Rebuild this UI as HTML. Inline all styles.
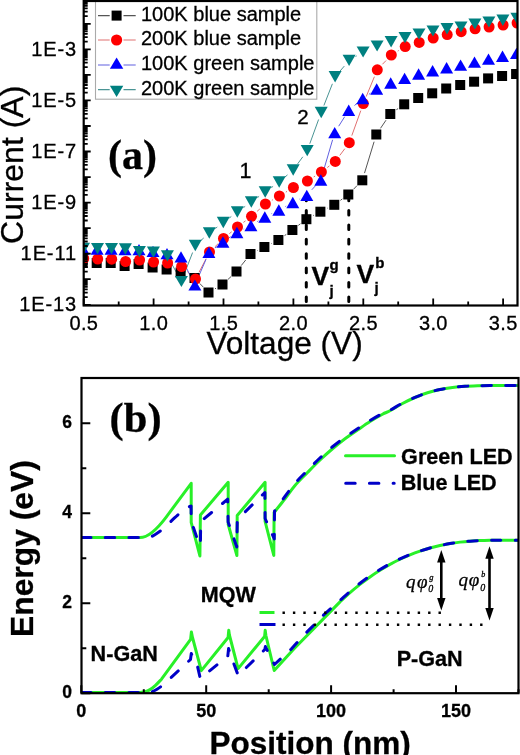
<!DOCTYPE html>
<html><head><meta charset="utf-8"><style>
html,body{margin:0;padding:0;background:#fff;}
svg{display:block;}
text{stroke:#000;stroke-width:0.3px;}
text.nb{stroke-width:0.15px;}
</style></head><body>
<svg width="520" height="755" viewBox="0 0 520 755" font-family="Liberation Sans, Arial, sans-serif" fill="#000">
<rect width="520" height="755" fill="#fff"/>
<clipPath id="ca"><rect x="83.7" y="1.0" width="433.8" height="304.5"/></clipPath>
<g clip-path="url(#ca)">
<path d="M199.7,283.4L203.3,287.1 M215.0,288.8L216.0,288.2 M228.0,279.4L231.0,276.6 M241.2,265.6L245.8,259.9 M257.2,250.6L257.7,250.4 M271.1,243.6L271.7,243.4 M284.5,235.6L286.3,234.4 M298.3,225.4L300.4,223.8 M313.0,215.7L313.8,215.2 M327.1,208.4L327.6,208.1 M340.4,200.4L342.3,198.9 M353.6,189.2L357.0,185.6 M364.5,173.1L374.1,141.7 M380.5,128.3L386.0,120.2 M396.4,109.7L398.1,108.6" fill="none" stroke="#555555" stroke-width="1"/>
<path d="M187.2,271.5L189.9,274.0 M199.0,272.3L206.1,258.7 M214.9,246.8L218.1,243.7 M229.3,233.7L231.7,231.8 M243.4,222.4L245.5,220.9 M257.1,211.3L259.8,209.0 M271.9,200.3L272.9,199.7 M285.8,192.1L287.0,191.4 M313.7,176.9L315.1,176.1 M327.3,167.5L329.4,165.9 M339.8,155.4L344.8,148.7 M351.8,135.6L360.8,110.6 M366.2,96.6L374.4,76.7 M382.4,64.3L386.1,60.5 M397.7,51.1L398.8,50.5" fill="none" stroke="#e07070" stroke-width="1"/>
<path d="M184.3,263.7L191.6,278.3 M197.9,278.1L206.0,259.4 M214.9,248.0L216.9,246.5 M229.1,237.8L230.7,236.7 M243.6,229.1L244.2,228.9 M257.3,221.6L258.4,220.9 M271.5,213.6L272.1,213.4 M285.4,206.5L286.2,206.0 M299.5,199.1L300.1,198.7 M311.8,189.8L315.7,185.5 M322.9,172.8L332.6,139.8 M338.7,126.2L344.7,116.7 M354.5,105.5L357.0,103.3 M368.9,94.3L370.5,93.2" fill="none" stroke="#6060e0" stroke-width="1"/>
<path d="M171.0,262.6L177.8,274.9 M184.1,274.5L192.6,252.5 M200.9,240.5L203.7,238.0 M215.3,228.5L217.3,227.0 M229.3,218.0L231.3,216.5 M243.4,207.6L245.2,206.4 M257.4,197.6L259.1,196.4 M271.3,187.6L273.1,186.4 M284.9,177.1L287.5,174.9 M297.6,163.9L302.8,156.8 M309.8,143.7L318.6,119.5 M323.9,105.5L332.4,83.8 M340.0,71.1L344.3,66.1 M355.5,56.5L356.7,55.9" fill="none" stroke="#4a9494" stroke-width="1"/>
<line x1="306.3" y1="301.5" x2="306.3" y2="198" stroke="#000" stroke-width="3" stroke-dasharray="4.6,9.8" stroke-linecap="round"/>
<line x1="348.8" y1="301.5" x2="348.8" y2="198" stroke="#000" stroke-width="3" stroke-dasharray="4.6,9.8" stroke-linecap="round"/>
<rect x="77.7" y="258.0" width="10" height="10" fill="#000000"/>
<rect x="91.7" y="258.0" width="10" height="10" fill="#000000"/>
<rect x="105.7" y="258.0" width="10" height="10" fill="#000000"/>
<rect x="119.6" y="261.0" width="10" height="10" fill="#000000"/>
<rect x="133.6" y="259.0" width="10" height="10" fill="#000000"/>
<rect x="147.6" y="262.5" width="10" height="10" fill="#000000"/>
<rect x="161.6" y="264.5" width="10" height="10" fill="#000000"/>
<rect x="175.6" y="267.5" width="10" height="10" fill="#000000"/>
<rect x="189.5" y="273.0" width="10" height="10" fill="#000000"/>
<rect x="203.5" y="287.5" width="10" height="10" fill="#000000"/>
<rect x="217.5" y="279.5" width="10" height="10" fill="#000000"/>
<rect x="231.5" y="266.5" width="10" height="10" fill="#000000"/>
<rect x="245.5" y="249.0" width="10" height="10" fill="#000000"/>
<rect x="259.4" y="242.0" width="10" height="10" fill="#000000"/>
<rect x="273.4" y="235.0" width="10" height="10" fill="#000000"/>
<rect x="287.4" y="225.0" width="10" height="10" fill="#000000"/>
<rect x="301.4" y="214.2" width="10" height="10" fill="#000000"/>
<rect x="315.4" y="206.7" width="10" height="10" fill="#000000"/>
<rect x="329.3" y="199.8" width="10" height="10" fill="#000000"/>
<rect x="343.3" y="189.5" width="10" height="10" fill="#000000"/>
<rect x="357.3" y="175.3" width="10" height="10" fill="#000000"/>
<rect x="371.3" y="129.5" width="10" height="10" fill="#000000"/>
<rect x="385.3" y="109.0" width="10" height="10" fill="#000000"/>
<rect x="399.2" y="99.3" width="10" height="10" fill="#000000"/>
<rect x="413.2" y="93.0" width="10" height="10" fill="#000000"/>
<rect x="427.2" y="88.3" width="10" height="10" fill="#000000"/>
<rect x="441.2" y="83.5" width="10" height="10" fill="#000000"/>
<rect x="455.2" y="80.0" width="10" height="10" fill="#000000"/>
<rect x="469.1" y="76.7" width="10" height="10" fill="#000000"/>
<rect x="483.1" y="73.4" width="10" height="10" fill="#000000"/>
<rect x="497.1" y="71.0" width="10" height="10" fill="#000000"/>
<rect x="511.1" y="69.0" width="10" height="10" fill="#000000"/>
<circle cx="83.7" cy="258.5" r="5.5" fill="#ff0000"/>
<circle cx="97.7" cy="259.0" r="5.5" fill="#ff0000"/>
<circle cx="111.7" cy="259.2" r="5.5" fill="#ff0000"/>
<circle cx="125.6" cy="261.5" r="5.5" fill="#ff0000"/>
<circle cx="139.6" cy="260.0" r="5.5" fill="#ff0000"/>
<circle cx="153.6" cy="262.0" r="5.5" fill="#ff0000"/>
<circle cx="167.6" cy="263.0" r="5.5" fill="#ff0000"/>
<circle cx="181.6" cy="266.5" r="5.5" fill="#ff0000"/>
<circle cx="195.5" cy="279.0" r="5.5" fill="#ff0000"/>
<circle cx="209.5" cy="252.0" r="5.5" fill="#ff0000"/>
<circle cx="223.5" cy="238.5" r="5.5" fill="#ff0000"/>
<circle cx="237.5" cy="227.0" r="5.5" fill="#ff0000"/>
<circle cx="251.5" cy="216.3" r="5.5" fill="#ff0000"/>
<circle cx="265.4" cy="204.0" r="5.5" fill="#ff0000"/>
<circle cx="279.4" cy="196.0" r="5.5" fill="#ff0000"/>
<circle cx="293.4" cy="187.5" r="5.5" fill="#ff0000"/>
<circle cx="307.4" cy="181.0" r="5.5" fill="#ff0000"/>
<circle cx="321.4" cy="172.0" r="5.5" fill="#ff0000"/>
<circle cx="335.3" cy="161.4" r="5.5" fill="#ff0000"/>
<circle cx="349.3" cy="142.7" r="5.5" fill="#ff0000"/>
<circle cx="363.3" cy="103.5" r="5.5" fill="#ff0000"/>
<circle cx="377.3" cy="69.8" r="5.5" fill="#ff0000"/>
<circle cx="391.3" cy="55.0" r="5.5" fill="#ff0000"/>
<circle cx="405.2" cy="46.6" r="5.5" fill="#ff0000"/>
<circle cx="419.2" cy="42.4" r="5.5" fill="#ff0000"/>
<circle cx="433.2" cy="38.0" r="5.5" fill="#ff0000"/>
<circle cx="447.2" cy="34.6" r="5.5" fill="#ff0000"/>
<circle cx="461.2" cy="31.7" r="5.5" fill="#ff0000"/>
<circle cx="475.1" cy="28.8" r="5.5" fill="#ff0000"/>
<circle cx="489.1" cy="27.0" r="5.5" fill="#ff0000"/>
<circle cx="503.1" cy="25.0" r="5.5" fill="#ff0000"/>
<circle cx="517.1" cy="23.0" r="5.5" fill="#ff0000"/>
<polygon points="76.6,254.7 89.6,254.7 83.1,243.3" fill="#0000ff"/>
<polygon points="90.6,254.7 103.6,254.7 97.1,243.3" fill="#0000ff"/>
<polygon points="104.6,254.7 117.6,254.7 111.1,243.3" fill="#0000ff"/>
<polygon points="118.5,255.2 131.5,255.2 125.0,243.8" fill="#0000ff"/>
<polygon points="132.5,255.3 145.5,255.3 139.0,244.0" fill="#0000ff"/>
<polygon points="146.5,257.1 159.5,257.1 153.0,245.8" fill="#0000ff"/>
<polygon points="160.5,259.3 173.5,259.3 167.0,248.0" fill="#0000ff"/>
<polygon points="174.5,262.6 187.5,262.6 181.0,251.3" fill="#0000ff"/>
<polygon points="188.4,290.6 201.4,290.6 194.9,279.4" fill="#0000ff"/>
<polygon points="202.4,258.1 215.4,258.1 208.9,246.8" fill="#0000ff"/>
<polygon points="216.4,247.7 229.4,247.7 222.9,236.3" fill="#0000ff"/>
<polygon points="230.4,238.2 243.4,238.2 236.9,226.8" fill="#0000ff"/>
<polygon points="244.4,231.2 257.4,231.2 250.9,219.8" fill="#0000ff"/>
<polygon points="258.3,222.7 271.3,222.7 264.8,211.3" fill="#0000ff"/>
<polygon points="272.3,215.7 285.3,215.7 278.8,204.3" fill="#0000ff"/>
<polygon points="286.3,208.2 299.3,208.2 292.8,196.8" fill="#0000ff"/>
<polygon points="300.3,201.0 313.3,201.0 306.8,189.7" fill="#0000ff"/>
<polygon points="314.3,185.7 327.3,185.7 320.8,174.3" fill="#0000ff"/>
<polygon points="328.2,138.2 341.2,138.2 334.7,126.9" fill="#0000ff"/>
<polygon points="342.2,116.0 355.2,116.0 348.7,104.6" fill="#0000ff"/>
<polygon points="356.2,104.2 369.2,104.2 362.7,92.8" fill="#0000ff"/>
<polygon points="370.2,94.7 383.2,94.7 376.7,83.3" fill="#0000ff"/>
<polygon points="384.2,88.7 397.2,88.7 390.7,77.3" fill="#0000ff"/>
<polygon points="398.1,84.1 411.1,84.1 404.6,72.8" fill="#0000ff"/>
<polygon points="412.1,79.7 425.1,79.7 418.6,68.3" fill="#0000ff"/>
<polygon points="426.1,76.4 439.1,76.4 432.6,65.0" fill="#0000ff"/>
<polygon points="440.1,73.5 453.1,73.5 446.6,62.1" fill="#0000ff"/>
<polygon points="454.1,70.7 467.1,70.7 460.6,59.4" fill="#0000ff"/>
<polygon points="468.0,67.7 481.0,67.7 474.5,56.4" fill="#0000ff"/>
<polygon points="482.0,64.7 495.0,64.7 488.5,53.4" fill="#0000ff"/>
<polygon points="496.0,61.9 509.0,61.9 502.5,50.6" fill="#0000ff"/>
<polygon points="510.0,59.0 523.0,59.0 516.5,47.8" fill="#0000ff"/>
<polygon points="77.0,242.8 90.0,242.8 83.5,254.2" fill="#008080"/>
<polygon points="91.0,243.0 104.0,243.0 97.5,254.3" fill="#008080"/>
<polygon points="105.0,243.0 118.0,243.0 111.5,254.3" fill="#008080"/>
<polygon points="118.9,243.3 131.9,243.3 125.4,254.7" fill="#008080"/>
<polygon points="132.9,245.9 145.9,245.9 139.4,257.2" fill="#008080"/>
<polygon points="146.9,246.5 159.9,246.5 153.4,257.8" fill="#008080"/>
<polygon points="160.9,250.3 173.9,250.3 167.4,261.6" fill="#008080"/>
<polygon points="174.9,275.9 187.9,275.9 181.4,287.1" fill="#008080"/>
<polygon points="188.8,239.8 201.8,239.8 195.3,251.2" fill="#008080"/>
<polygon points="202.8,227.3 215.8,227.3 209.3,238.7" fill="#008080"/>
<polygon points="216.8,216.8 229.8,216.8 223.3,228.2" fill="#008080"/>
<polygon points="230.8,206.3 243.8,206.3 237.3,217.7" fill="#008080"/>
<polygon points="244.8,196.3 257.8,196.3 251.3,207.7" fill="#008080"/>
<polygon points="258.7,186.3 271.7,186.3 265.2,197.7" fill="#008080"/>
<polygon points="272.7,176.3 285.7,176.3 279.2,187.7" fill="#008080"/>
<polygon points="286.7,164.3 299.7,164.3 293.2,175.7" fill="#008080"/>
<polygon points="300.7,145.0 313.7,145.0 307.2,156.3" fill="#008080"/>
<polygon points="314.7,106.8 327.7,106.8 321.2,118.2" fill="#008080"/>
<polygon points="328.6,71.1 341.6,71.1 335.1,82.5" fill="#008080"/>
<polygon points="342.6,54.8 355.6,54.8 349.1,66.0" fill="#008080"/>
<polygon points="356.6,46.4 369.6,46.4 363.1,57.6" fill="#008080"/>
<polygon points="370.6,40.4 383.6,40.4 377.1,51.6" fill="#008080"/>
<polygon points="384.6,36.1 397.6,36.1 391.1,47.4" fill="#008080"/>
<polygon points="398.5,32.0 411.5,32.0 405.0,43.2" fill="#008080"/>
<polygon points="412.5,28.4 425.5,28.4 419.0,39.6" fill="#008080"/>
<polygon points="426.5,25.4 439.5,25.4 433.0,36.6" fill="#008080"/>
<polygon points="440.5,23.1 453.5,23.1 447.0,34.5" fill="#008080"/>
<polygon points="454.5,21.4 467.5,21.4 461.0,32.6" fill="#008080"/>
<polygon points="468.4,18.4 481.4,18.4 474.9,29.6" fill="#008080"/>
<polygon points="482.4,16.4 495.4,16.4 488.9,27.6" fill="#008080"/>
<polygon points="496.4,14.5 509.4,14.5 502.9,25.9" fill="#008080"/>
<polygon points="510.4,12.7 523.4,12.7 516.9,24.0" fill="#008080"/>
</g>
<rect x="95.5" y="-2" width="221.3" height="101.2" fill="#fff" stroke="#aaa" stroke-width="1.1"/>
<path d="M98,15.55H109.7M123.5,15.55H135.7" stroke="#555555" stroke-width="1.2"/>
<rect x="111.6" y="10.6" width="10" height="10" fill="#000000"/>
<text x="141" y="21.0" font-size="20">100K blue sample</text>
<path d="M98,40.0H109.7M123.5,40.0H135.7" stroke="#e07070" stroke-width="1.2"/>
<circle cx="116.6" cy="40.0" r="5.6" fill="#ff0000"/>
<text x="141" y="45.4" font-size="20">200K blue sample</text>
<path d="M98,65.0H109.7M123.5,65.0H135.7" stroke="#6060e0" stroke-width="1.2"/>
<polygon points="109.9,68.8 123.3,68.8 116.6,57.5" fill="#0000ff"/>
<text x="141" y="70.4" font-size="20">100K green sample</text>
<path d="M98,89.6H109.7M123.5,89.6H135.7" stroke="#4a9494" stroke-width="1.2"/>
<polygon points="109.9,85.8 123.3,85.8 116.6,97.1" fill="#008080"/>
<text x="141" y="95.0" font-size="20">200K green sample</text>
<rect x="83.7" y="1.0" width="433.8" height="304.5" fill="none" stroke="#000" stroke-width="2.2"/>
<path d="M83.7,304.8h7 M83.7,297.1h4 M83.7,292.6h4 M83.7,289.4h4 M83.7,286.9h4 M83.7,284.9h4 M83.7,283.2h4 M83.7,281.7h4 M83.7,280.4h4 M83.7,279.2h7 M83.7,271.6h4 M83.7,267.1h4 M83.7,263.9h4 M83.7,261.4h4 M83.7,259.4h4 M83.7,257.7h4 M83.7,256.2h4 M83.7,254.9h4 M83.7,253.7h7 M83.7,246.0h4 M83.7,241.5h4 M83.7,238.3h4 M83.7,235.8h4 M83.7,233.8h4 M83.7,232.1h4 M83.7,230.6h4 M83.7,229.3h4 M83.7,228.2h7 M83.7,220.5h4 M83.7,216.0h4 M83.7,212.8h4 M83.7,210.3h4 M83.7,208.3h4 M83.7,206.6h4 M83.7,205.1h4 M83.7,203.8h4 M83.7,202.6h7 M83.7,194.9h4 M83.7,190.4h4 M83.7,187.2h4 M83.7,184.7h4 M83.7,182.7h4 M83.7,181.0h4 M83.7,179.5h4 M83.7,178.2h4 M83.7,177.1h7 M83.7,169.4h4 M83.7,164.9h4 M83.7,161.7h4 M83.7,159.2h4 M83.7,157.2h4 M83.7,155.5h4 M83.7,154.0h4 M83.7,152.7h4 M83.7,151.5h7 M83.7,143.8h4 M83.7,139.3h4 M83.7,136.1h4 M83.7,133.6h4 M83.7,131.6h4 M83.7,129.9h4 M83.7,128.4h4 M83.7,127.1h4 M83.7,126.0h7 M83.7,118.3h4 M83.7,113.8h4 M83.7,110.6h4 M83.7,108.1h4 M83.7,106.1h4 M83.7,104.4h4 M83.7,102.9h4 M83.7,101.6h4 M83.7,100.4h7 M83.7,92.7h4 M83.7,88.2h4 M83.7,85.0h4 M83.7,82.5h4 M83.7,80.5h4 M83.7,78.8h4 M83.7,77.3h4 M83.7,76.0h4 M83.7,74.8h7 M83.7,67.2h4 M83.7,62.7h4 M83.7,59.5h4 M83.7,57.0h4 M83.7,55.0h4 M83.7,53.3h4 M83.7,51.8h4 M83.7,50.5h4 M83.7,49.3h7 M83.7,41.6h4 M83.7,37.1h4 M83.7,33.9h4 M83.7,31.4h4 M83.7,29.4h4 M83.7,27.7h4 M83.7,26.2h4 M83.7,24.9h4 M83.7,23.8h7 M83.7,16.1h4 M83.7,11.6h4 M83.7,8.4h4 M83.7,5.9h4 M83.7,3.9h4 M83.7,2.2h4" stroke="#000" stroke-width="1.8" fill="none"/>
<path d="M83.7,305.5v-7 M118.7,305.5v-4 M153.6,305.5v-7 M188.6,305.5v-4 M223.5,305.5v-7 M258.4,305.5v-4 M293.4,305.5v-7 M328.4,305.5v-4 M363.3,305.5v-7 M398.2,305.5v-4 M433.2,305.5v-7 M468.2,305.5v-4 M503.1,305.5v-7" stroke="#000" stroke-width="1.8" fill="none"/>
<text x="77" y="55.5" font-size="20" letter-spacing="0.9" text-anchor="end">1E-3</text>
<text x="77" y="106.6" font-size="20" letter-spacing="0.9" text-anchor="end">1E-5</text>
<text x="77" y="157.7" font-size="20" letter-spacing="0.9" text-anchor="end">1E-7</text>
<text x="77" y="208.8" font-size="20" letter-spacing="0.9" text-anchor="end">1E-9</text>
<text x="77" y="259.9" font-size="20" letter-spacing="0.9" text-anchor="end">1E-11</text>
<text x="77" y="311.0" font-size="20" letter-spacing="0.9" text-anchor="end">1E-13</text>
<text x="83.9" y="329.5" font-size="20" letter-spacing="0.4" text-anchor="middle">0.5</text>
<text x="153.8" y="329.5" font-size="20" letter-spacing="0.4" text-anchor="middle">1.0</text>
<text x="223.7" y="329.5" font-size="20" letter-spacing="0.4" text-anchor="middle">1.5</text>
<text x="293.6" y="329.5" font-size="20" letter-spacing="0.4" text-anchor="middle">2.0</text>
<text x="363.5" y="329.5" font-size="20" letter-spacing="0.4" text-anchor="middle">2.5</text>
<text x="433.4" y="329.5" font-size="20" letter-spacing="0.4" text-anchor="middle">3.0</text>
<text x="503.3" y="329.5" font-size="20" letter-spacing="0.4" text-anchor="middle">3.5</text>
<text x="206.4" y="354.4" font-size="31.6">Voltage (V)</text>
<text transform="translate(22.6,164.8) rotate(-90)" font-size="32" text-anchor="middle">Current (A)</text>
<text x="108" y="168.8" font-size="42" font-weight="bold" font-family="Liberation Serif, serif">(a)</text>
<text x="239.6" y="178.2" font-size="21.5">1</text>
<text x="297.2" y="123.5" font-size="20.5">2</text>
<g font-weight="bold">
<text x="311.6" y="285.4" font-size="26.5">V</text><text x="329.4" y="270.3" font-size="15">g</text><text x="329.6" y="295.6" font-size="15">j</text>
<text x="356.6" y="282.7" font-size="26.5">V</text><text x="375.2" y="268.1" font-size="15">b</text><text x="374.6" y="293" font-size="15">j</text>
</g>
<clipPath id="cb"><rect x="81.5" y="378.0" width="437.0" height="315.20000000000005"/></clipPath>
<g clip-path="url(#cb)" fill="none" stroke-linejoin="round">
<path d="M80.00,537.50 L140.00,537.50 Q150.80,537.50 166.00,517.30 L191.20,483.30 L191.20,522.30 L199.90,556.00 L200.40,515.00 L228.20,482.30 L228.20,524.50 L236.90,555.50 L237.20,515.50 L265.10,482.30 L265.10,521.50 L273.80,555.40 L274.10,512.50 C275.92,510.21 281.52,503.25 285.00,498.75 C288.48,494.25 291.25,489.88 295.00,485.50 C298.75,481.12 303.33,476.75 307.50,472.50 C311.67,468.25 315.83,463.96 320.00,460.00 C324.17,456.04 328.33,452.29 332.50,448.75 C336.67,445.21 340.83,441.88 345.00,438.75 C349.17,435.62 353.33,432.88 357.50,430.00 C361.67,427.12 365.83,424.13 370.00,421.50 C374.17,418.87 379.17,415.98 382.50,414.20 C385.83,412.42 386.67,412.58 390.00,410.80 C393.33,409.02 398.33,405.72 402.50,403.50 C406.67,401.28 410.83,399.28 415.00,397.50 C419.17,395.72 423.33,394.13 427.50,392.80 C431.67,391.47 435.83,390.38 440.00,389.50 C444.17,388.62 448.33,388.03 452.50,387.50 C456.67,386.97 460.83,386.59 465.00,386.30 C469.17,386.01 473.33,385.88 477.50,385.75 C481.67,385.62 485.42,385.56 490.00,385.50 C494.58,385.44 499.83,385.42 505.00,385.40 C510.17,385.38 518.33,385.40 521.00,385.40" stroke="#28f028" stroke-width="3"/>
<path d="M80.00,692.60 L139.00,692.60 C140.00,692.47 143.17,692.30 145.00,691.80 C146.83,691.30 148.25,690.68 150.00,689.60 C151.75,688.52 153.58,687.03 155.50,685.30 C157.42,683.57 160.50,680.22 161.50,679.20 L190.60,639.30 L191.40,632.00 L192.50,637.50 L201.30,670.60 L228.10,637.50 L228.75,630.30 L229.40,635.00 L238.10,668.60 L264.60,636.50 L265.20,630.30 L265.90,635.50 L274.20,670.50 L293.80,649.00 L340.00,601.90 C341.67,600.36 346.67,595.61 350.00,592.70 C353.33,589.78 356.67,587.01 360.00,584.38 C363.33,581.75 366.67,579.26 370.00,576.91 C373.33,574.55 376.67,572.34 380.00,570.25 C383.33,568.16 386.67,566.21 390.00,564.38 C393.33,562.54 396.67,560.84 400.00,559.25 C403.33,557.66 406.67,556.20 410.00,554.84 C413.33,553.48 416.67,552.24 420.00,551.10 C423.33,549.97 426.67,548.94 430.00,548.01 C433.33,547.08 436.67,546.25 440.00,545.51 C443.33,544.77 446.67,544.13 450.00,543.57 C453.33,543.00 456.67,542.53 460.00,542.13 C463.33,541.72 466.67,541.40 470.00,541.14 C473.33,540.87 476.67,540.69 480.00,540.54 C483.33,540.39 486.67,540.32 490.00,540.26 C493.33,540.20 494.83,540.21 500.00,540.20 C505.17,540.19 517.50,540.20 521.00,540.20" stroke="#28f028" stroke-width="3"/>
<path d="M81.50,537.50 L145.00,537.50 C145.67,537.43 147.68,537.38 149.00,537.10 C150.32,536.82 151.40,536.55 152.90,535.80 C154.40,535.05 156.23,533.80 158.00,532.60 C159.77,531.40 161.67,530.15 163.50,528.60 C165.33,527.05 167.12,525.12 169.00,523.30 C170.88,521.48 172.97,519.42 174.80,517.70 C176.63,515.98 178.37,514.40 180.00,513.00 C181.63,511.60 183.27,510.23 184.60,509.30 C185.93,508.37 186.92,507.95 188.00,507.40 C189.08,506.85 190.58,506.23 191.10,506.00 L191.20,521.00 L199.20,544.50 L200.40,545.00 L200.70,521.50 L227.70,499.20 L228.10,522.00 L236.80,547.00 L237.30,519.50 L264.90,492.50 L265.10,518.50 L274.30,539.00 L274.50,511.20 C276.15,508.88 281.08,501.78 284.40,497.25 C287.72,492.72 290.65,488.38 294.40,484.00 C298.15,479.62 302.73,475.25 306.90,471.00 C311.07,466.75 315.23,462.46 319.40,458.50 C323.57,454.54 327.63,450.79 331.90,447.25 C336.17,443.71 340.73,440.33 345.00,437.25 C349.27,434.17 353.33,431.54 357.50,428.75 C361.67,425.96 365.83,423.05 370.00,420.50 C374.17,417.95 379.17,415.17 382.50,413.45 C385.83,411.73 386.67,411.92 390.00,410.20 C393.33,408.48 398.33,405.28 402.50,403.15 C406.67,401.02 410.83,399.12 415.00,397.40 C419.17,395.67 423.33,394.12 427.50,392.80 C431.67,391.48 435.83,390.38 440.00,389.50 C444.17,388.62 448.33,388.03 452.50,387.50 C456.67,386.97 460.83,386.59 465.00,386.30 C469.17,386.01 473.33,385.88 477.50,385.75 C481.67,385.62 485.42,385.56 490.00,385.50 C494.58,385.44 499.83,385.42 505.00,385.40 C510.17,385.38 518.33,385.40 521.00,385.40" stroke="#0000c8" stroke-width="3" stroke-dasharray="9.5,14.2" stroke-linecap="round"/>
<path d="M81.50,692.60 L146.00,692.60 C146.58,692.55 148.45,692.45 149.50,692.30 C150.55,692.15 151.05,692.20 152.30,691.70 C153.55,691.20 155.08,690.52 157.00,689.30 C158.92,688.08 161.75,686.08 163.80,684.40 C165.85,682.72 168.38,680.07 169.30,679.20 L190.50,659.50 L191.30,653.50 L192.20,655.50 L197.30,665.40 L200.30,678.50 L227.80,656.00 L228.60,648.50 L229.50,652.00 L238.20,675.50 L264.80,649.50 L265.40,646.50 L266.50,649.00 L274.50,664.50 L291.30,649.00 L302.50,636.50 L312.10,626.90 L323.70,614.90 L333.30,606.20 C334.42,605.23 337.22,602.86 340.00,600.39 C342.78,597.92 346.67,594.24 350.00,591.38 C353.33,588.53 356.67,585.82 360.00,583.25 C363.33,580.69 366.67,578.26 370.00,575.97 C373.33,573.68 376.67,571.53 380.00,569.50 C383.33,567.47 386.67,565.58 390.00,563.81 C393.33,562.04 396.67,560.40 400.00,558.88 C403.33,557.35 406.67,555.95 410.00,554.65 C413.33,553.36 416.67,552.21 420.00,551.10 C423.33,550.00 426.67,548.94 430.00,548.01 C433.33,547.08 436.67,546.25 440.00,545.51 C443.33,544.77 446.67,544.13 450.00,543.57 C453.33,543.00 456.67,542.53 460.00,542.13 C463.33,541.72 466.67,541.40 470.00,541.14 C473.33,540.87 476.67,540.69 480.00,540.54 C483.33,540.39 486.67,540.32 490.00,540.26 C493.33,540.20 494.83,540.21 500.00,540.20 C505.17,540.19 517.50,540.20 521.00,540.20" stroke="#0000c8" stroke-width="3" stroke-dasharray="9.5,14.2" stroke-linecap="round"/>
</g>
<line x1="259.5" y1="612.5" x2="274.5" y2="612.5" stroke="#28f028" stroke-width="3"/>
<line x1="259.5" y1="624.5" x2="275.5" y2="624.5" stroke="#0000c8" stroke-width="3"/>
<line x1="282.5" y1="612.8" x2="442" y2="612.8" stroke="#000" stroke-width="2.4" stroke-dasharray="2.4,8"/>
<line x1="282.5" y1="624.7" x2="487" y2="624.7" stroke="#000" stroke-width="2.4" stroke-dasharray="2.4,8"/>
<line x1="441.3" y1="560" x2="441.3" y2="600.5" stroke="#000" stroke-width="2.6"/><polygon points="441.3,550 437.1,562.5 445.5,562.5" fill="#000"/><polygon points="441.3,610.5 437.1,598.0 445.5,598.0" fill="#000"/>
<line x1="489.5" y1="556.2" x2="489.5" y2="610.5" stroke="#000" stroke-width="2.6"/><polygon points="489.5,546.2 485.3,558.7 493.7,558.7" fill="#000"/><polygon points="489.5,620.5 485.3,608.0 493.7,608.0" fill="#000"/>
<g font-family="Liberation Serif, serif" font-style="italic">
<text x="406" y="587.6" font-size="19">q</text><text x="417" y="587.6" font-size="19">φ</text>
<text x="429.3" y="580.2" font-size="8.5">g</text><text x="428.3" y="592" font-size="10">0</text>
<text x="458.4" y="585.8" font-size="19">q</text><text x="468.7" y="585.8" font-size="19">φ</text>
<text x="481.2" y="577.4" font-size="8">b</text><text x="480.3" y="591" font-size="10">0</text>
</g>
<line x1="345.5" y1="455.8" x2="394.5" y2="455.8" stroke="#28f028" stroke-width="3" stroke-linecap="round"/>
<line x1="345.7" y1="483.2" x2="394.2" y2="483.2" stroke="#0000c8" stroke-width="3" stroke-dasharray="9.5,14.2" stroke-linecap="round"/>
<g font-weight="bold" font-size="21.6">
<text x="401.1" y="463.6">Green LED</text>
<text x="400.7" y="490.3">Blue LED</text>
<text x="200.8" y="601.5">MQW</text>
<text x="90.6" y="660.8">N-GaN</text>
<text x="396.7" y="666">P-GaN</text>
</g>
<rect x="81.5" y="378.0" width="437.0" height="315.20000000000005" fill="none" stroke="#000" stroke-width="2.2"/>
<path d="M81.5,693.2h8.8 M81.5,648.2h4.8 M81.5,603.2h8.8 M81.5,558.2h4.8 M81.5,513.2h8.8 M81.5,468.2h4.8 M81.5,423.2h8.8 M81.3,693.2v-8 M143.8,693.2v-4 M206.2,693.2v-8 M268.7,693.2v-4 M331.1,693.2v-8 M393.6,693.2v-4 M456.0,693.2v-8 M518.5,693.2v-4" stroke="#000" stroke-width="2" fill="none"/>
<g font-weight="bold" font-size="18">
<text x="72" y="697.8" font-size="17.5" text-anchor="end">0</text>
<text x="72" y="607.8" font-size="17.5" text-anchor="end">2</text>
<text x="72" y="517.8" font-size="17.5" text-anchor="end">4</text>
<text x="72" y="427.8" font-size="17.5" text-anchor="end">6</text>
<text x="81.3" y="716.5" text-anchor="middle">0</text>
<text x="206.2" y="716.5" text-anchor="middle">50</text>
<text x="331.1" y="716.5" text-anchor="middle">100</text>
<text x="456.0" y="716.5" text-anchor="middle">150</text>
</g>
<text x="209.6" y="753.6" font-size="31.5" font-weight="bold">Position (nm)</text>
<text transform="translate(33,548.6) rotate(-90)" font-size="31.8" font-weight="bold" text-anchor="middle">Energy (eV)</text>
<text x="109.6" y="431.6" font-size="42.5" font-weight="bold" font-family="Liberation Serif, serif">(b)</text>
</svg>
</body></html>
